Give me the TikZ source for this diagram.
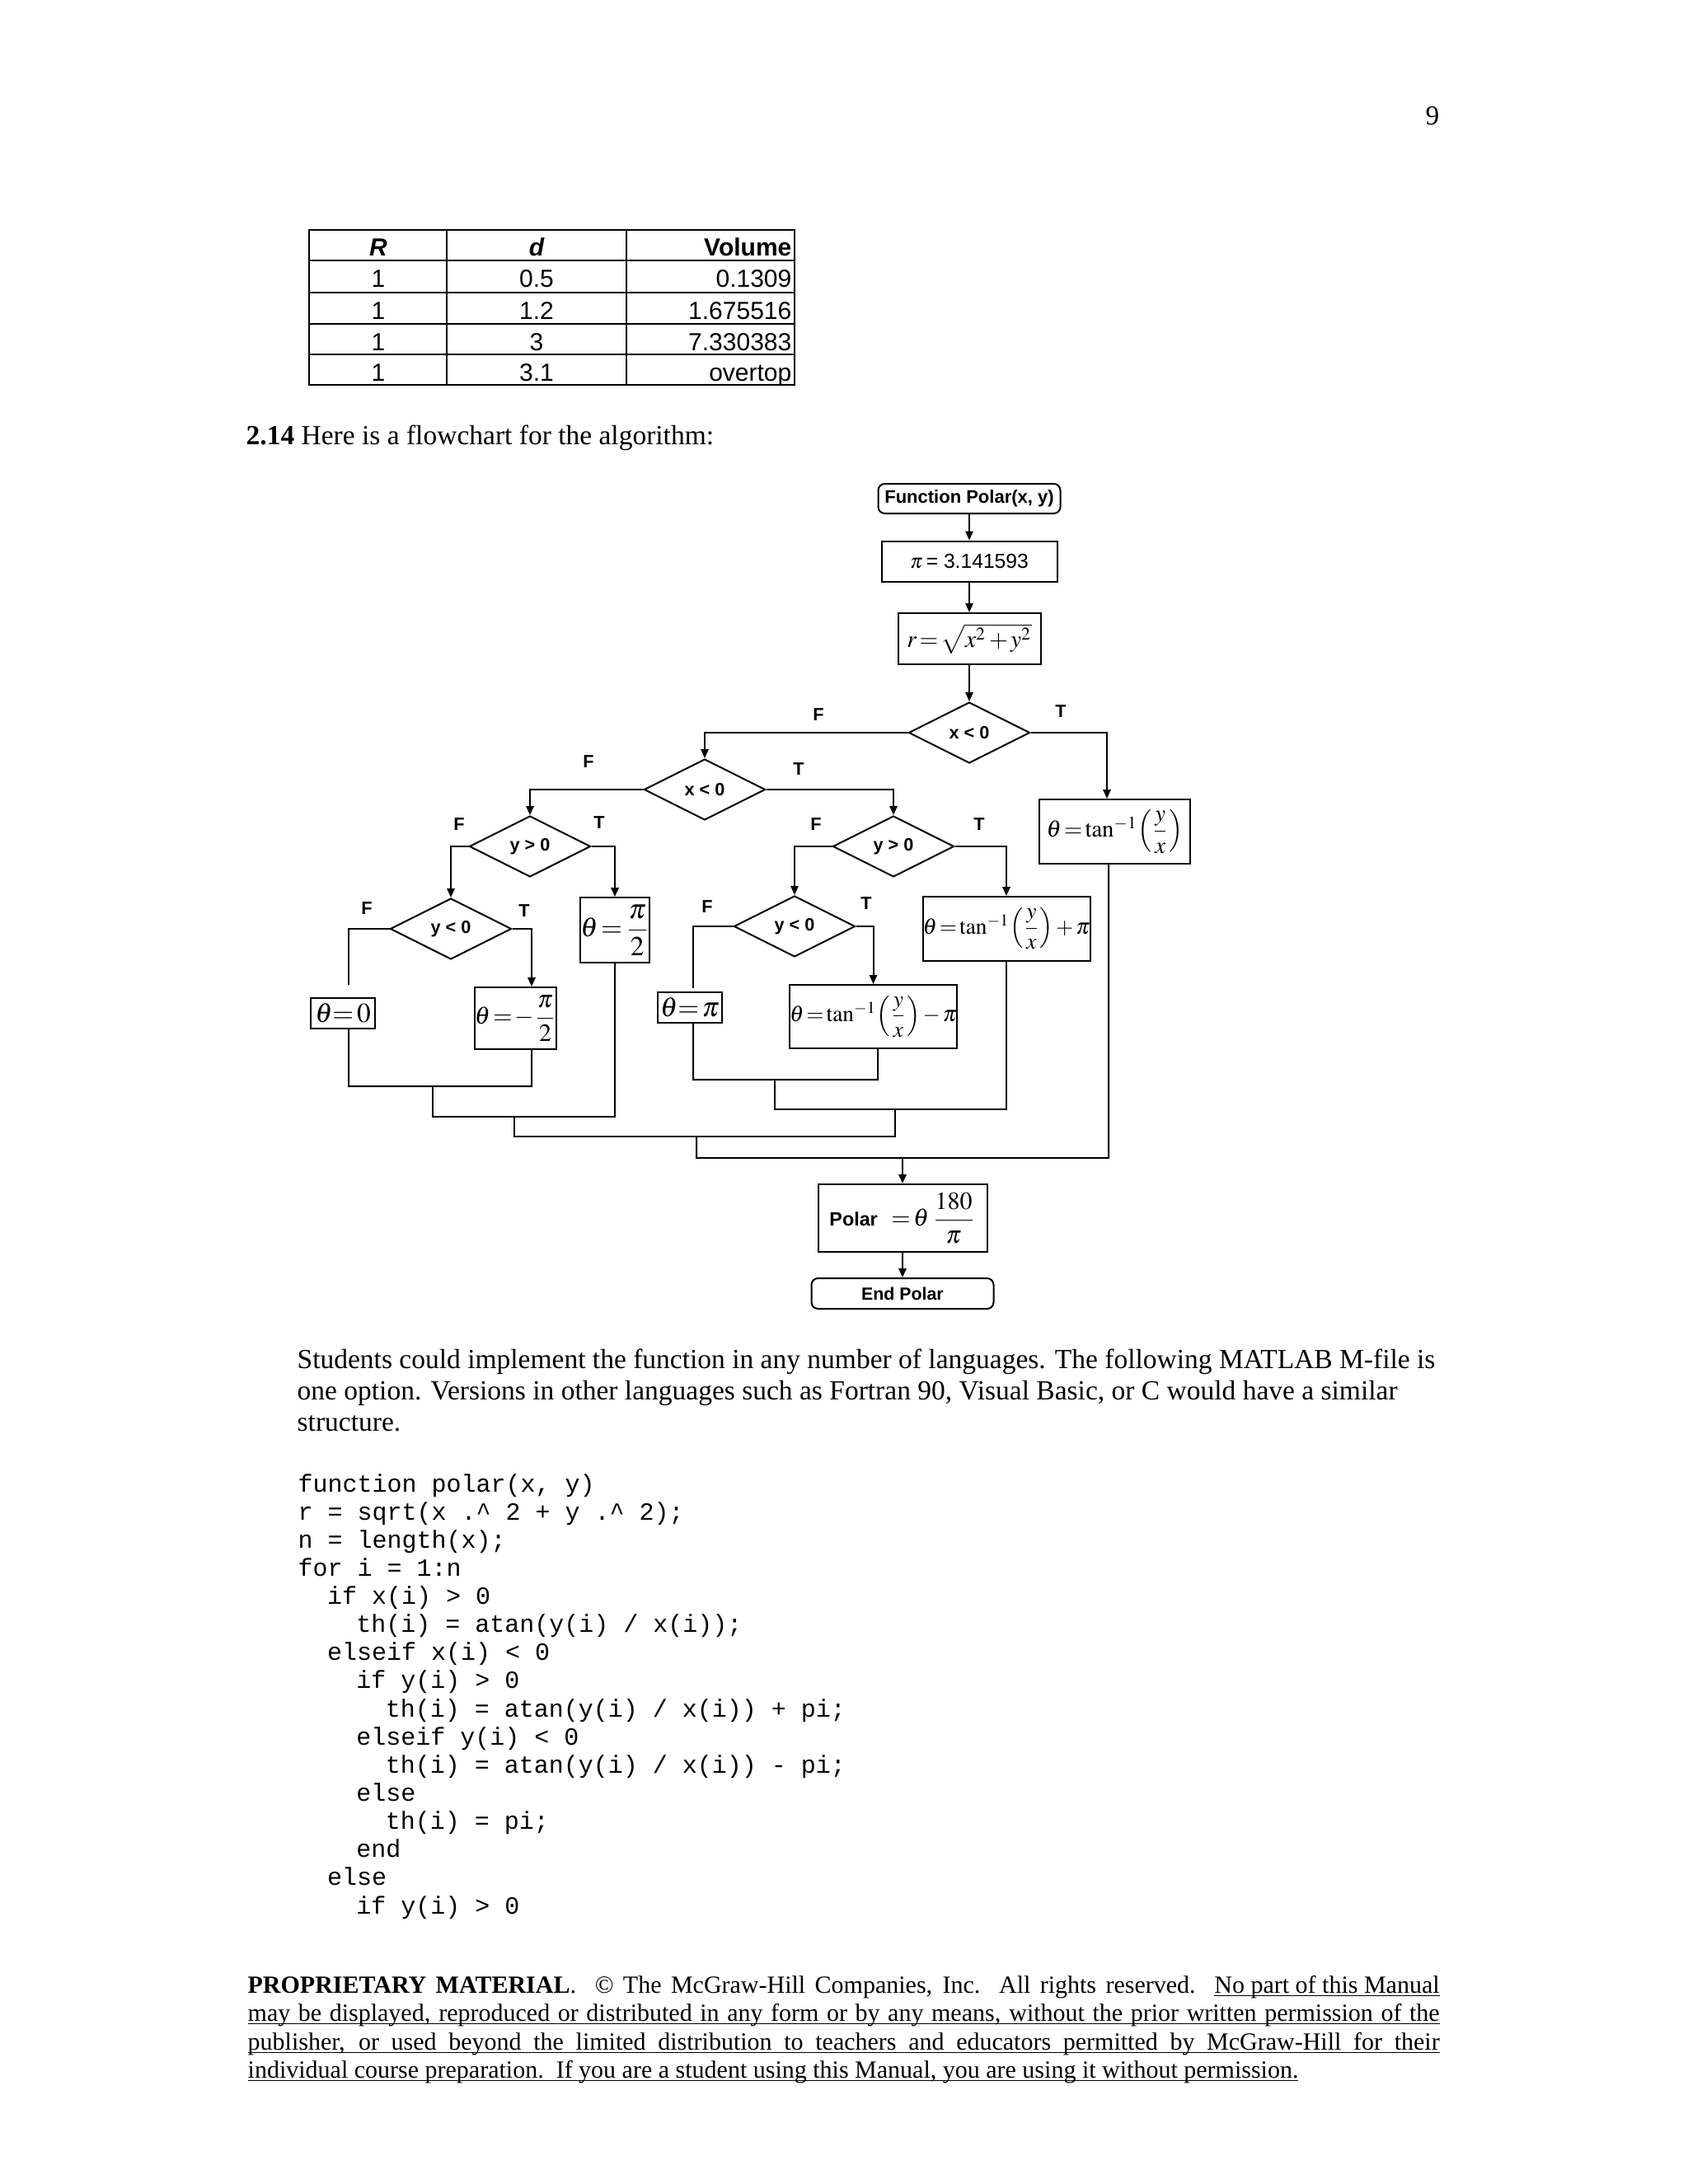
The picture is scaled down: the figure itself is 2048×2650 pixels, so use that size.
\documentclass[tikz,border=0pt]{standalone}
\usepackage{mathptmx}
\usepackage[no-math]{fontspec}
\setmainfont{Liberation Serif}
\setsansfont{Liberation Sans}
\setmonofont{Liberation Mono}
\usetikzlibrary{shapes.geometric,arrows.meta}
\newcommand{\setfs}[1]{\fontsize{#1}{#1}\selectfont}
\newcommand{\dfr}[2]{{\displaystyle\frac{#1}{#2}}}
\newsavebox{\ulbx}
\newcommand{\myul}[1]{\sbox{\ulbx}{#1}\rlap{\rule[-1.3pt]{\wd\ulbx}{0.45pt}}\usebox{\ulbx}}
\tikzset{
 ln/.style={line width=0.6pt},
 arr/.style={ln,-{Triangle[length=3.3pt,width=2.8pt]}},
 bx/.style 2 args={draw,ln,inner sep=0pt,minimum width=#1*0.3pt,minimum height=#2*0.3pt},
 rbx/.style 2 args={bx={#1}{#2},rounded corners=2.4pt},
 dia/.style={draw,ln,shape=diamond,inner sep=0pt,minimum width=44.1pt,minimum height=22.2pt,font=\sffamily\bfseries\setfs{6.5}},
 lab/.style={font=\sffamily\bfseries\setfs{6.5},inner sep=0pt},
 txt/.style={inner sep=0pt,anchor=base west},
 tb/.style={inner sep=0pt,anchor=base,font=\sffamily\setfs{9}},
 tbr/.style={inner sep=0pt,anchor=base east,font=\sffamily\setfs{9}},
 code/.style={txt,font=\ttfamily\setfs{9}},
 body/.style={txt,font=\setfs{10.05}},
 foot/.style={txt,font=\setfs{9}}
}
\begin{document}
\begin{tikzpicture}[x=0.3pt,y=-0.3pt]
\thickmuskip=2mu plus 1mu
\medmuskip=2mu plus 1mu
\useasboundingbox (0,0) rectangle (2048,2650);
\fill[white] (0,0) rectangle (2048,2650);

% page number
\node[inner sep=0pt,anchor=base,font=\setfs{10}] (pg) at (1738,151) {9};

% table
\draw[ln] (375,279) rectangle (964,467);
\foreach \yy in {316,355,393,430} \draw[ln] (375,\yy) -- (964,\yy);
\foreach \xx in {542,760} \draw[ln] (\xx,279) -- (\xx,467);
\node[tb] (tR) at (459,310) {\bfseries\itshape R};
\node[tb] (tD) at (651,310) {\bfseries\itshape d};
\node[tbr] (tV) at (961,310) {\bfseries Volume};
\node[tb] (r1a) at (459,348) {1};
\node[tb] (r1b) at (651,348) {0.5};
\node[tbr] (r1c) at (961,348) {0.1309};
\node[tb] (r2a) at (459,387) {1};
\node[tb] (r2b) at (651,387) {1.2};
\node[tbr] (r2c) at (961,387) {1.675516};
\node[tb] (r3a) at (459,425) {1};
\node[tb] (r3b) at (651,425) {3};
\node[tbr] (r3c) at (961,425) {7.330383};
\node[tb] (r4a) at (459,462) {1};
\node[tb] (r4b) at (651,462) {3.1};
\node[tbr] (r4c) at (961,462) {overtop};

% heading
\node[body] (hd) at (298,539) {\textbf{2.14} Here is a flowchart for the algorithm:};

% flowchart nodes
\node[rbx={221}{36},font=\sffamily\bfseries\setfs{6.6}] (FP) at (1176,605) {Function Polar(x, y)};
\node[bx={213}{49},font=\sffamily\setfs{7.4}] (PI) at (1176,681) {$\pi$\,= 3.141593};
\node[bx={173}{62},font=\setfs{8.8}] (R) at (1176,775) {$r=\sqrt{x^2+y^2}$};
\node[dia] (D1) at (1176,889) {x < 0};
\node[dia] (D2) at (855,958) {x < 0};
\node[bx={183}{78},font=\setfs{8.6}] (TA) at (1352.5,1009) {$\theta=\tan^{-1}\!\left(\dfr{y}{x}\right)$};
\node[dia] (D3) at (643,1027) {y > 0};
\node[dia] (D4) at (1084,1027) {y > 0};
\node[bx={82}{79},font=\setfs{10}] (PI2) at (746,1128.5) {$\theta=\dfr{\pi}{2}$};
\node[dia] (D5) at (547,1127) {y < 0};
\node[bx={196}{78},font=\setfs{8.2}] (TP) at (1221,1127) {$\theta=\tan^{-1}\!\left(\dfr{y}{x}\right)+\pi$};
\node[dia] (D6) at (964,1124) {y < 0};
\node[bx={78}{37},font=\setfs{10}] (Z) at (416,1229.5) {$\theta{=}\,0$};
\node[bx={97}{75},font=\setfs{9}] (MPI2) at (625.5,1235.5) {$\theta=-\dfr{\pi}{2}$};
\node[bx={78}{37},font=\setfs{10}] (PIB) at (837,1222.5) {$\theta{=}\,\pi$};
\node[bx={195}{77},font=\setfs{8.2}] (TM) at (1059.5,1233.5) {$\theta=\tan^{-1}\!\left(\dfr{y}{x}\right)-\pi$};
\node[bx={205}{82}] (POL) at (1095,1478) {{\sffamily\bfseries\setfs{7}Polar}\ \ {\setfs{9}$=\theta\,\dfr{180}{\pi}$}};
\node[rbx={221}{37},font=\sffamily\bfseries\setfs{6.4}] (END) at (1095,1569.5) {End Polar};

% branch labels
\node[lab] (l1f) at (993,867) {F};
\node[lab] (l1t) at (1287,863) {T};
\node[lab] (l2f) at (714,924) {F};
\node[lab] (l2t) at (969,933) {T};
\node[lab] (l3f) at (557,1000) {F};
\node[lab] (l3t) at (727,998) {T};
\node[lab] (l4f) at (990,1000) {F};
\node[lab] (l4t) at (1188,1000) {T};
\node[lab] (l5f) at (445,1102) {F};
\node[lab] (l5t) at (636,1105) {T};
\node[lab] (l6f) at (858,1100) {F};
\node[lab] (l6t) at (1051,1096) {T};

% connectors
\draw[arr] (FP.south) -- (PI.north);
\draw[arr] (PI.south) -- (R.north);
\draw[arr] (R.south) -- (D1.north);
\draw[arr] (D1.west) -| (D2.north);
\draw[arr] (D1.east) -| ([xshift=-2.85pt]TA.north);
\draw[arr] (D2.west) -| (D3.north);
\draw[arr] (D2.east) -| (D4.north);
\draw[arr] (D3.west) -| (D5.north);
\draw[arr] (D3.east) -| (PI2.north);
\coordinate (zf) at (423,1195);
\draw[ln] (D5.west) -| (zf);
\draw[arr] (D5.east) -| ([xshift=5.85pt]MPI2.north);
\draw[arr] (D4.west) -| (D6.north);
\draw[arr] (D4.east) -| (TP.north);
\coordinate (pf) at (841,1199);
\draw[ln] (D6.west) -| (pf);
\draw[arr] (D6.east) -| (TM.north);

% merging lines
\coordinate (zb) at ([xshift=2.1pt]Z.south);
\coordinate (mb) at ([xshift=5.85pt]MPI2.south);
\coordinate (c2) at (645,1318);
\draw[ln] (zb) |- (c2) -- (mb);
\coordinate (c3) at (525,1318);
\coordinate (c5) at (746,1355);
\draw[ln] (c3) |- (c5) -- (PI2.south);
\coordinate (c6) at (624,1355);
\coordinate (c8) at (1086,1379);
\coordinate (c14) at (1086,1346);
\draw[ln] (c6) |- (c8) -- (c14);
\coordinate (pb) at ([xshift=1.2pt]PIB.south);
\coordinate (tmb) at ([xshift=1.65pt]TM.south);
\coordinate (c10) at (1065,1310);
\draw[ln] (pb) |- (c10) -- (tmb);
\coordinate (c11) at (940,1310);
\coordinate (c13) at (1221,1346);
\draw[ln] (c11) |- (c13) -- (TP.south);
\coordinate (c15) at (845,1379);
\coordinate (tab) at ([xshift=-2.25pt]TA.south);
\coordinate (c17) at (1345,1405);
\draw[ln] (c15) |- (c17) -- (tab);
\coordinate (c18) at (1095,1405);
\draw[arr] (c18) -- (POL.north);
\draw[arr] (POL.south) -- (END.north);

% paragraph
\node[body] (p1) at (360,1660) {Students could implement the function in any number of languages. The following MATLAB M-file is};
\node[body] (p2) at (360,1698) {one option. Versions in other languages such as Fortran 90, Visual Basic, or C would have a similar};
\node[body] (p3) at (360,1736) {structure.};

% code
\node[code] (k1) at (361,1810) {function polar(x, y)};
\node[code] (k2) at (361,1844.1) {r = sqrt(x .\textasciicircum{} 2 + y .\textasciicircum{} 2);};
\node[code] (k3) at (361,1878.3) {n = length(x);};
\node[code] (k4) at (361,1912.4) {for i = 1:n};
\node[code] (k5) at (396.4,1946.5) {if x(i) > 0};
\node[code] (k6) at (431.8,1980.7) {th(i) = atan(y(i) / x(i));};
\node[code] (k7) at (396.4,2014.8) {elseif x(i) < 0};
\node[code] (k8) at (431.8,2048.9) {if y(i) > 0};
\node[code] (k9) at (467.2,2083) {th(i) = atan(y(i) / x(i)) + pi;};
\node[code] (k10) at (431.8,2117.2) {elseif y(i) < 0};
\node[code] (k11) at (467.2,2151.3) {th(i) = atan(y(i) / x(i)) - pi;};
\node[code] (k12) at (431.8,2185.4) {else};
\node[code] (k13) at (467.2,2219.6) {th(i) = pi;};
\node[code] (k14) at (431.8,2253.7) {end};
\node[code] (k15) at (396.4,2287.8) {else};
\node[code] (k16) at (431.8,2322) {if y(i) > 0};

% footer
\node[foot] (f1) at (300,2418) {\makebox[433.8pt][s]{\textbf{PROPRIETARY MATERIAL}.\ \ \textcopyright{} The McGraw-Hill Companies, Inc.\ \ All rights reserved.\ \ \myul{No part of this Manual}}};
\node[foot] (f2) at (300,2452) {\myul{\makebox[433.8pt][s]{may be displayed, reproduced or distributed in any form or by any means, without the prior written permission of the}}};
\node[foot] (f3) at (300,2487) {\myul{\makebox[433.8pt][s]{publisher, or used beyond the limited distribution to teachers and educators permitted by McGraw-Hill for their}}};
\node[foot] (f4) at (300,2521) {\myul{individual course preparation.\ \ If you are a student using this Manual, you are using it without permission.}};
\end{tikzpicture}
\end{document}
